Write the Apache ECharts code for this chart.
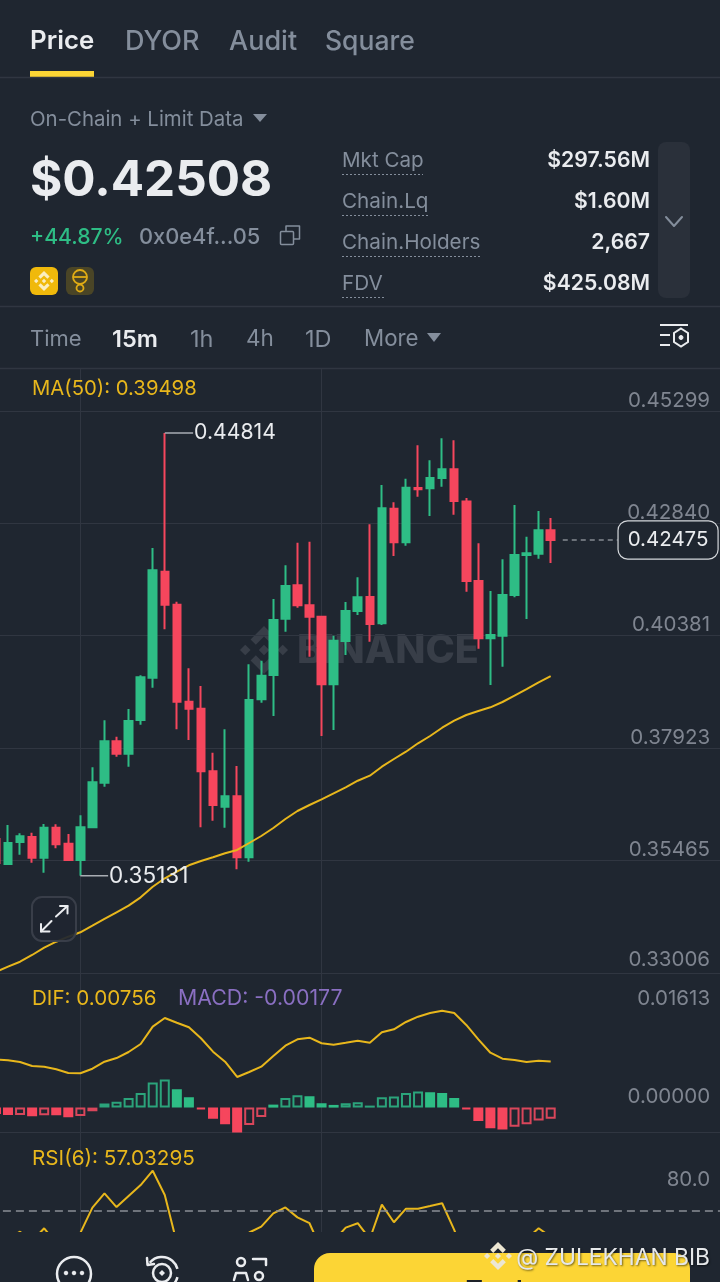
<!DOCTYPE html>
<html><head><meta charset="utf-8">
<style>html,body{margin:0;padding:0;background:#1f2630;overflow:hidden}#c{width:720px;height:1282px}</style>
<script src="https://cdn.jsdelivr.net/npm/echarts@6/dist/echarts.min.js"></script>
</head><body><div id="c"></div>
<script>
// ---- data (first entry is the partly visible candle at the left edge)
const opens=[.35936,.35390,.35871,.35980,.35527,.36183,.35834,.35477,.36192,.37167,.38073,.37802,.38539,.39464,.41782,.41060,.38939,.38786,.37417,.36643,.36870,.35536,.38991,.39523,.40754,.41484,.41047,.40798,.39319,.40266,.40922,.41228,.40653,.43159,.42424,.43612,.43605,.43831,.44021,.43315,.41578,.40325,.40382,.41272,.42147,.42175,.42687];
const closes=[.35411,.35849,.35995,.35527,.36183,.35820,.35477,.36192,.37176,.38073,.37802,.38517,.39472,.41812,.41060,.38939,.38786,.37417,.36680,.36870,.35536,.38976,.39507,.40725,.41469,.41047,.40798,.39319,.40273,.40922,.41222,.40638,.43168,.42424,.43619,.43584,.43831,.44021,.43328,.41578,.40325,.40397,.41272,.42147,.42184,.42687,.42475];
const lows=[.35368,.35390,.35593,.35418,.35199,.35733,.35477,.35131,.36192,.37080,.37736,.37517,.38436,.39245,.40522,.38335,.38101,.36192,.36336,.36183,.35274,.35440,.38917,.38626,.40470,.40994,.39923,.38189,.38320,.39960,.40835,.40251,.40616,.42125,.42350,.43422,.43000,.43640,.43028,.41344,.40098,.39304,.39704,.41222,.40747,.42066,.41972];
const highs=[.36002,.36242,.36061,.36074,.36264,.36258,.36046,.36455,.37504,.38532,.38173,.38779,.39516,.42300,.44814,.41126,.39669,.39282,.37824,.38335,.37533,.39757,.39835,.41185,.41921,.42416,.42438,.40798,.40382,.41119,.41659,.42818,.43678,.43299,.43815,.44546,.44218,.44699,.44655,.43393,.42403,.41360,.42053,.43240,.42547,.43109,.42956];
const ma50=[.33028,.33144,.33253,.33400,.33559,.33690,.33800,.33896,.34040,.34187,.34333,.34478,.34661,.34893,.35077,.35221,.35361,.35455,.35536,.35624,.35696,.35849,.36002,.36177,.36374,.36549,.36680,.36804,.36936,.37067,.37211,.37321,.37517,.37686,.37845,.38029,.38189,.38370,.38523,.38648,.38735,.38816,.38932,.39070,.39216,.39363,.39498];
const dif=[.00792,.00776,.00748,.00682,.00671,.00628,.00567,.00563,.00638,.00753,.00813,.00912,.01043,.01327,.01469,.01392,.01317,.01137,.00917,.00753,.00502,.00584,.00671,.00846,.01015,.01120,.01146,.01055,.01032,.01064,.01097,.01064,.01235,.01284,.01404,.01491,.01551,.01589,.01551,.01355,.01120,.00900,.00802,.00781,.00748,.00769,.00756];
const hist=[-.00104,-.00120,-.00120,-.00142,-.00126,-.00126,-.00159,-.00137,-.00060,.00066,.00098,.00159,.00241,.00410,.00459,.00301,.00170,-.00027,-.00181,-.00274,-.00410,-.00284,-.00153,.00049,.00159,.00202,.00186,.00071,.00044,.00071,.00088,.00033,.00170,.00181,.00241,.00263,.00252,.00241,.00159,-.00027,-.00219,-.00339,-.00361,-.00312,-.00274,-.00213,-.00181];
const histHollow=[0,0,1,0,1,0,0,1,1,1,1,1,1,1,1,0,0,0,0,0,0,1,1,0,1,1,0,0,0,1,1,1,1,1,1,1,0,0,0,0,0,0,0,1,1,1,1];
const rsi6=[52,56,59.6,55,61.3,54,51,59,71.5,78.6,71.8,77.3,82.7,89.8,77.8,54,50,44,40,42,38,59.2,62.1,68.7,71.6,66.7,63.8,50.5,55,61.6,63.8,56,73,64.3,71,71,72.3,73.7,60.5,45,40,42,48,54,56,61.3,57.03];
const priceTicks=[.33006,.35465,.37923,.40381,.42840,.45299];
const macdTicks=[0,.01613];
const rsiTicks=[50,80];
const highLabel=.44814, lowLabel=.35131, lastPrice=.42475;
const verticalGrid=[7,27];
const SLOTS=61;
const categories=Array.from({length:SLOTS},(_,i)=>'c'+i);

// ---- style
const FONT='Inter, "Noto Sans", sans-serif';
const BG='#1f2630',GRID='#303641',GREY='#848e9c',AX='#7f8590',WHITE='#eaecef',GREEN='#2ebd85',RED='#f6465d',GOLD='#e8b71c',PURPLE='#8a6fc2';
const LEFT=-10.09,WIDTH=735.66;
const t=(text,x,y,size,fill,o={})=>({type:'text',z:o.z||50,style:Object.assign({text,x,y:y+1.7,fontSize:size,fontFamily:FONT,fontWeight:o.w||400,fill,align:o.a||'left',verticalAlign:'middle'},o.s||{})});
const rect=(x,y,w,h,fill,r=0,z=50,extra={})=>({type:'rect',z,shape:{x,y,width:w,height:h,r},style:Object.assign({fill},extra)});
const line=(x1,y1,x2,y2,stroke,lw=1.5,z=50,dash)=>({type:'line',z,shape:{x1,y1,x2,y2},style:{stroke,lineWidth:lw,lineDash:dash}});
const poly=(points,fill,z=50,o)=>({type:'polygon',z,shape:{points},style:Object.assign({fill},o||{})});
const pl=(points,stroke,lw=2,z=50)=>({type:'polyline',z,shape:{points},style:{stroke,lineWidth:lw,fill:'none',lineCap:'round',lineJoin:'round'}});
const circ=(cx,cy,r,stroke,lw=2,z=50,fill='none')=>({type:'circle',z,shape:{cx,cy,r},style:{stroke,lineWidth:lw,fill}});
const arc=(cx,cy,r,a0,a1,stroke,lw=2.5,z=91)=>({type:'arc',z,shape:{cx,cy,r,startAngle:a0*Math.PI/180,endAngle:a1*Math.PI/180},style:{stroke,lineWidth:lw,fill:'none'}});
function logo(cx,cy,s,fill,z){
  const P=a=>a.map(p=>[cx+p[0]*s,cy+p[1]*s]);
  const D=(x,y,h)=>P([[x,y-h],[x+h,y],[x,y+h],[x-h,y]]);
  return [poly(P([[0,-1],[.56,-.44],[.34,-.22],[0,-.56],[-.34,-.22],[-.56,-.44]]),fill,z),
          poly(P([[0,1],[.56,.44],[.34,.22],[0,.56],[-.34,.22],[-.56,.44]]),fill,z),
          poly(D(0,0,.22),fill,z),poly(D(-.78,0,.22),fill,z),poly(D(.78,0,.22),fill,z)];
}
const els=[
  // watermark (behind the series)
  ...logo(264,650,24,'#383e48',0),
  {type:'text',z:0,style:{text:'BINANCE',x:297,y:651,fontSize:39.5,fontWeight:800,fontFamily:FONT,fill:'#383e48',verticalAlign:'middle'}},
  // tabs
  t('Price',30,40,25.8,WHITE,{w:600}),t('DYOR',125,40,27,GREY,{w:500}),t('Audit',229,40,27,GREY,{w:500}),t('Square',325,40,26.5,GREY,{w:500}),
  rect(30,71,64,6,'#fcd535'),line(0,77.5,720,77.5,GRID),
  t('On-Chain + Limit Data',30,118,20.4,GREY),poly([[253,114],[267,114],[260,122]],GREY),
  t('$0.42508',30,179,49.4,WHITE,{w:700}),
  t('+44.87%',30,236,21.2,GREEN,{w:500}),t('0x0e4f...05',139,236,21.8,GREY,{w:500}),
  rect(280.5,231.5,13,13,'none',1,50,{stroke:GREY,lineWidth:1.5}),pl([[286,231],[286,226],[299.5,226],[299.5,239],[294,239]],GREY,1.5),
  rect(30,267,28,28,'#f0b90b',6),...logo(44,281,10,'#fbeec0',51),
  rect(66,267,28,28,'#4a4526',6),circ(80,277,7,'#e0ac14',1.8),circ(80,288,3.5,'#e0ac14',1.8),line(73,277,87,277,'#e0ac14',1.8),
  line(0,306.5,720,306.5,GRID),
  // stats
  t('Mkt Cap',342,159,20.6,GREY),t('Chain.Lq',342,200,20.7,GREY),t('Chain.Holders',342,241,20.7,GREY),t('FDV',342,282,20.7,GREY),
  t('$297.56M',650,159,21.2,WHITE,{a:'right',w:600}),t('$1.60M',650,200,21.2,WHITE,{a:'right',w:600}),t('2,667',650,241,21.2,WHITE,{a:'right',w:600}),t('$425.08M',650,282,21.2,WHITE,{a:'right',w:600}),
  line(342,174.5,423,174.5,GREY,1,50,[2,2]),line(342,215.5,428,215.5,GREY,1,50,[2,2]),line(342,256.5,480,256.5,GREY,1,50,[2,2]),line(342,297.5,384,297.5,GREY,1,50,[2,2]),
  rect(658,142,32,156,'#2a303a',8),pl([[666,217],[674,226],[682,217]],GREY,2),
  // timeframes
  t('Time',30,338,22,GREY),t('15m',112,338,23.5,WHITE,{w:600}),t('1h',190,338,23.5,GREY),t('4h',246,338,22.5,GREY),t('1D',305,338,23.5,GREY),t('More',364,338,22.3,GREY),
  poly([[427,333],[441,333],[434,342]],GREY),
  line(660,325,688,325,WHITE,2),line(660,335,670,335,WHITE,2),line(660,345,670,345,WHITE,2),
  poly([[681,328.5],[688,333],[688,342],[681,346.5],[674,342],[674,333]],'none',50,{stroke:WHITE,lineWidth:2}),circ(681,337.5,2,WHITE,1,50,WHITE),
  line(0,368.5,720,368.5,GRID),
  // panel titles
  t('MA(50): 0.39498',32,387,20.3,GOLD),t('DIF: 0.00756',32,997,20.6,GOLD),t('MACD: -0.00177',178,997,21.3,PURPLE),t('RSI(6): 57.03295',32,1157,20.7,GOLD),
  // expand button
  rect(32,897,44,44,BG,10,40,{stroke:'#3b414b',lineWidth:2,opacity:.93}),
  pl([[56,916.5],[67.5,906]],WHITE,2,41),pl([[60,906],[67.5,906],[67.5,913.5]],WHITE,2,41),
  pl([[51.5,921],[41,931.5]],WHITE,2,41),pl([[41,924],[41,931.5],[49.5,931.5]],WHITE,2,41),
  // footer
  rect(0,1232,720,50,BG,0,90),
  circ(74,1274,17,WHITE,2.5,91),circ(66,1273,1.8,WHITE,1,91,WHITE),circ(74,1273,1.8,WHITE,1,91,WHITE),circ(82,1273,1.8,WHITE,1,91,WHITE),
  arc(162,1273,16,-140,-15,WHITE),arc(162,1273,16,15,140,WHITE),circ(162,1273,9,WHITE,2.5,91),
  poly([[162,1270],[165,1273],[162,1276],[159,1273]],WHITE,91),pl([[147,1258],[147.5,1265],[154,1264]],WHITE,2.5,91),
  circ(241,1262,4,WHITE,2.5,91),circ(259,1276,4,WHITE,2.5,91),pl([[234,1280],[236,1273],[246,1273],[248,1280]],WHITE,2.5,91),pl([[253,1259],[266,1259],[266,1265]],WHITE,2.5,91),
  rect(314,1253,376,60,'#fcd535',16,92),
  t('Trade',502,1289,26,'#1e2329',{a:'center',w:600,z:93}),
  ...logo(498,1256,14,'#ece6d2',94),
  t('@ ZULEKHAN BIB',710,1256,22.8,'#e6e8ea',{a:'right',z:95,s:{textShadowColor:'rgba(0,0,0,.55)',textShadowBlur:2,textShadowOffsetX:1,textShadowOffsetY:1}})
];
const cat=(g,borderLine)=>({type:'category',gridIndex:g,data:categories,boundaryGap:true,axisTick:{show:false},axisLabel:{show:false},splitLine:{show:false},
  axisLine:{show:borderLine,onZero:false,lineStyle:{color:GRID,width:1}}});
const labelStyle={inside:true,margin:15.5,color:AX,fontSize:20.5,fontFamily:FONT,verticalAlign:'bottom'};
const G=(top,height)=>({left:LEFT,width:WIDTH,top,height,containLabel:false,outerBoundsMode:'none'});
const option={
  animation:false,backgroundColor:BG,
  grid:[G(368,605),G(973,159),G(1132,150),G(368,914)],
  graphic:{elements:els},
  xAxis:[cat(0,true),cat(1,true),cat(2,false),
    {type:'value',gridIndex:0,min:-.5,max:SLOTS-.5,show:false},
    {type:'value',gridIndex:3,min:-.5,max:SLOTS-.5,axisLine:{show:false},axisTick:{show:false,customValues:verticalGrid},axisLabel:{show:false},splitLine:{show:true,lineStyle:{color:GRID,width:1}}}],
  yAxis:[
    {type:'value',gridIndex:0,position:'right',min:.33006,max:.46236,axisLine:{show:false},axisTick:{show:false,customValues:priceTicks},
     axisLabel:Object.assign({},labelStyle,{customValues:priceTicks,formatter:v=>v===priceTicks[0]?'{low|'+v.toFixed(5)+'}':v.toFixed(5),
       rich:{low:{color:AX,fontSize:20.5,fontFamily:FONT,padding:[0,0,3,0]}}}),splitLine:{show:true,lineStyle:{color:GRID,width:1}}},
    {type:'value',gridIndex:1,position:'right',min:-.0040,max:.02207,axisLine:{show:false},axisTick:{show:false},
     axisLabel:Object.assign({},labelStyle,{customValues:macdTicks,formatter:v=>v.toFixed(5)}),splitLine:{show:false}},
    {type:'value',gridIndex:2,position:'right',min:34.7,max:108.96,axisLine:{show:false},axisTick:{show:false},
     axisLabel:Object.assign({},labelStyle,{customValues:rsiTicks,formatter:v=>v.toFixed(1)}),splitLine:{show:false}},
    {type:'value',gridIndex:3,min:0,max:1,show:false}],
  series:[
    {type:'candlestick',name:'Price',xAxisIndex:0,yAxisIndex:0,barWidth:8,z:3,
     data:opens.map((o,i)=>[o,closes[i],lows[i],highs[i]]),
     itemStyle:{color:GREEN,color0:RED,borderColor:GREEN,borderColor0:RED,borderWidth:2}},
    {type:'line',name:'MA(50)',xAxisIndex:0,yAxisIndex:0,data:ma50,symbol:'none',z:4,lineStyle:{color:GOLD,width:2}},
    {type:'line',name:'High',xAxisIndex:3,yAxisIndex:0,data:[[14,highLabel],[16.35,highLabel]],symbol:'none',z:4,lineStyle:{color:'#a9adb3',width:1.5},
     endLabel:{show:true,formatter:()=>highLabel.toFixed(5),color:WHITE,fontSize:21.2,fontFamily:FONT,distance:1}},
    {type:'line',name:'Low',xAxisIndex:3,yAxisIndex:0,data:[[7,lowLabel],[9.3,lowLabel]],symbol:'none',z:4,lineStyle:{color:'#a9adb3',width:1.5},
     endLabel:{show:true,formatter:()=>lowLabel.toFixed(5),color:WHITE,fontSize:22.5,fontFamily:FONT,distance:1}},
    {type:'line',name:'Last',xAxisIndex:3,yAxisIndex:0,data:[[47,lastPrice],[51.55,lastPrice]],symbol:'none',z:5,lineStyle:{color:'#b8bcc2',width:1.2,type:[5,4]},
     endLabel:{show:true,formatter:()=>lastPrice.toFixed(5),color:WHITE,fontSize:20.5,fontFamily:FONT,distance:1,backgroundColor:BG,borderColor:'#d5d8dc',borderWidth:1.2,borderRadius:9,padding:[8,9]}},
    {type:'bar',name:'MACD',xAxisIndex:1,yAxisIndex:1,barWidth:10,z:3,
     data:hist.map((v,i)=>({value:v,itemStyle:histHollow[i]?{color:'rgba(0,0,0,0)',borderColor:v>0?'#2ba47b':'#d9465b',borderWidth:2}:{color:v>0?GREEN:RED,borderColor:v>0?GREEN:RED,borderWidth:2}}))},
    {type:'line',name:'DIF',xAxisIndex:1,yAxisIndex:1,data:dif,symbol:'none',z:4,lineStyle:{color:GOLD,width:2}},
    {type:'line',name:'RSI(6)',xAxisIndex:2,yAxisIndex:2,data:rsi6,symbol:'none',z:4,lineStyle:{color:GOLD,width:2},
     markLine:{silent:true,symbol:'none',label:{show:false},lineStyle:{color:'#8a8e95',type:[8,5],width:1.5},data:[{yAxis:70}]}}
  ]
};
const chart=echarts.init(document.getElementById('c'),null,{renderer:'canvas',width:720,height:1282});
chart.setOption(option);
</script></body></html>
